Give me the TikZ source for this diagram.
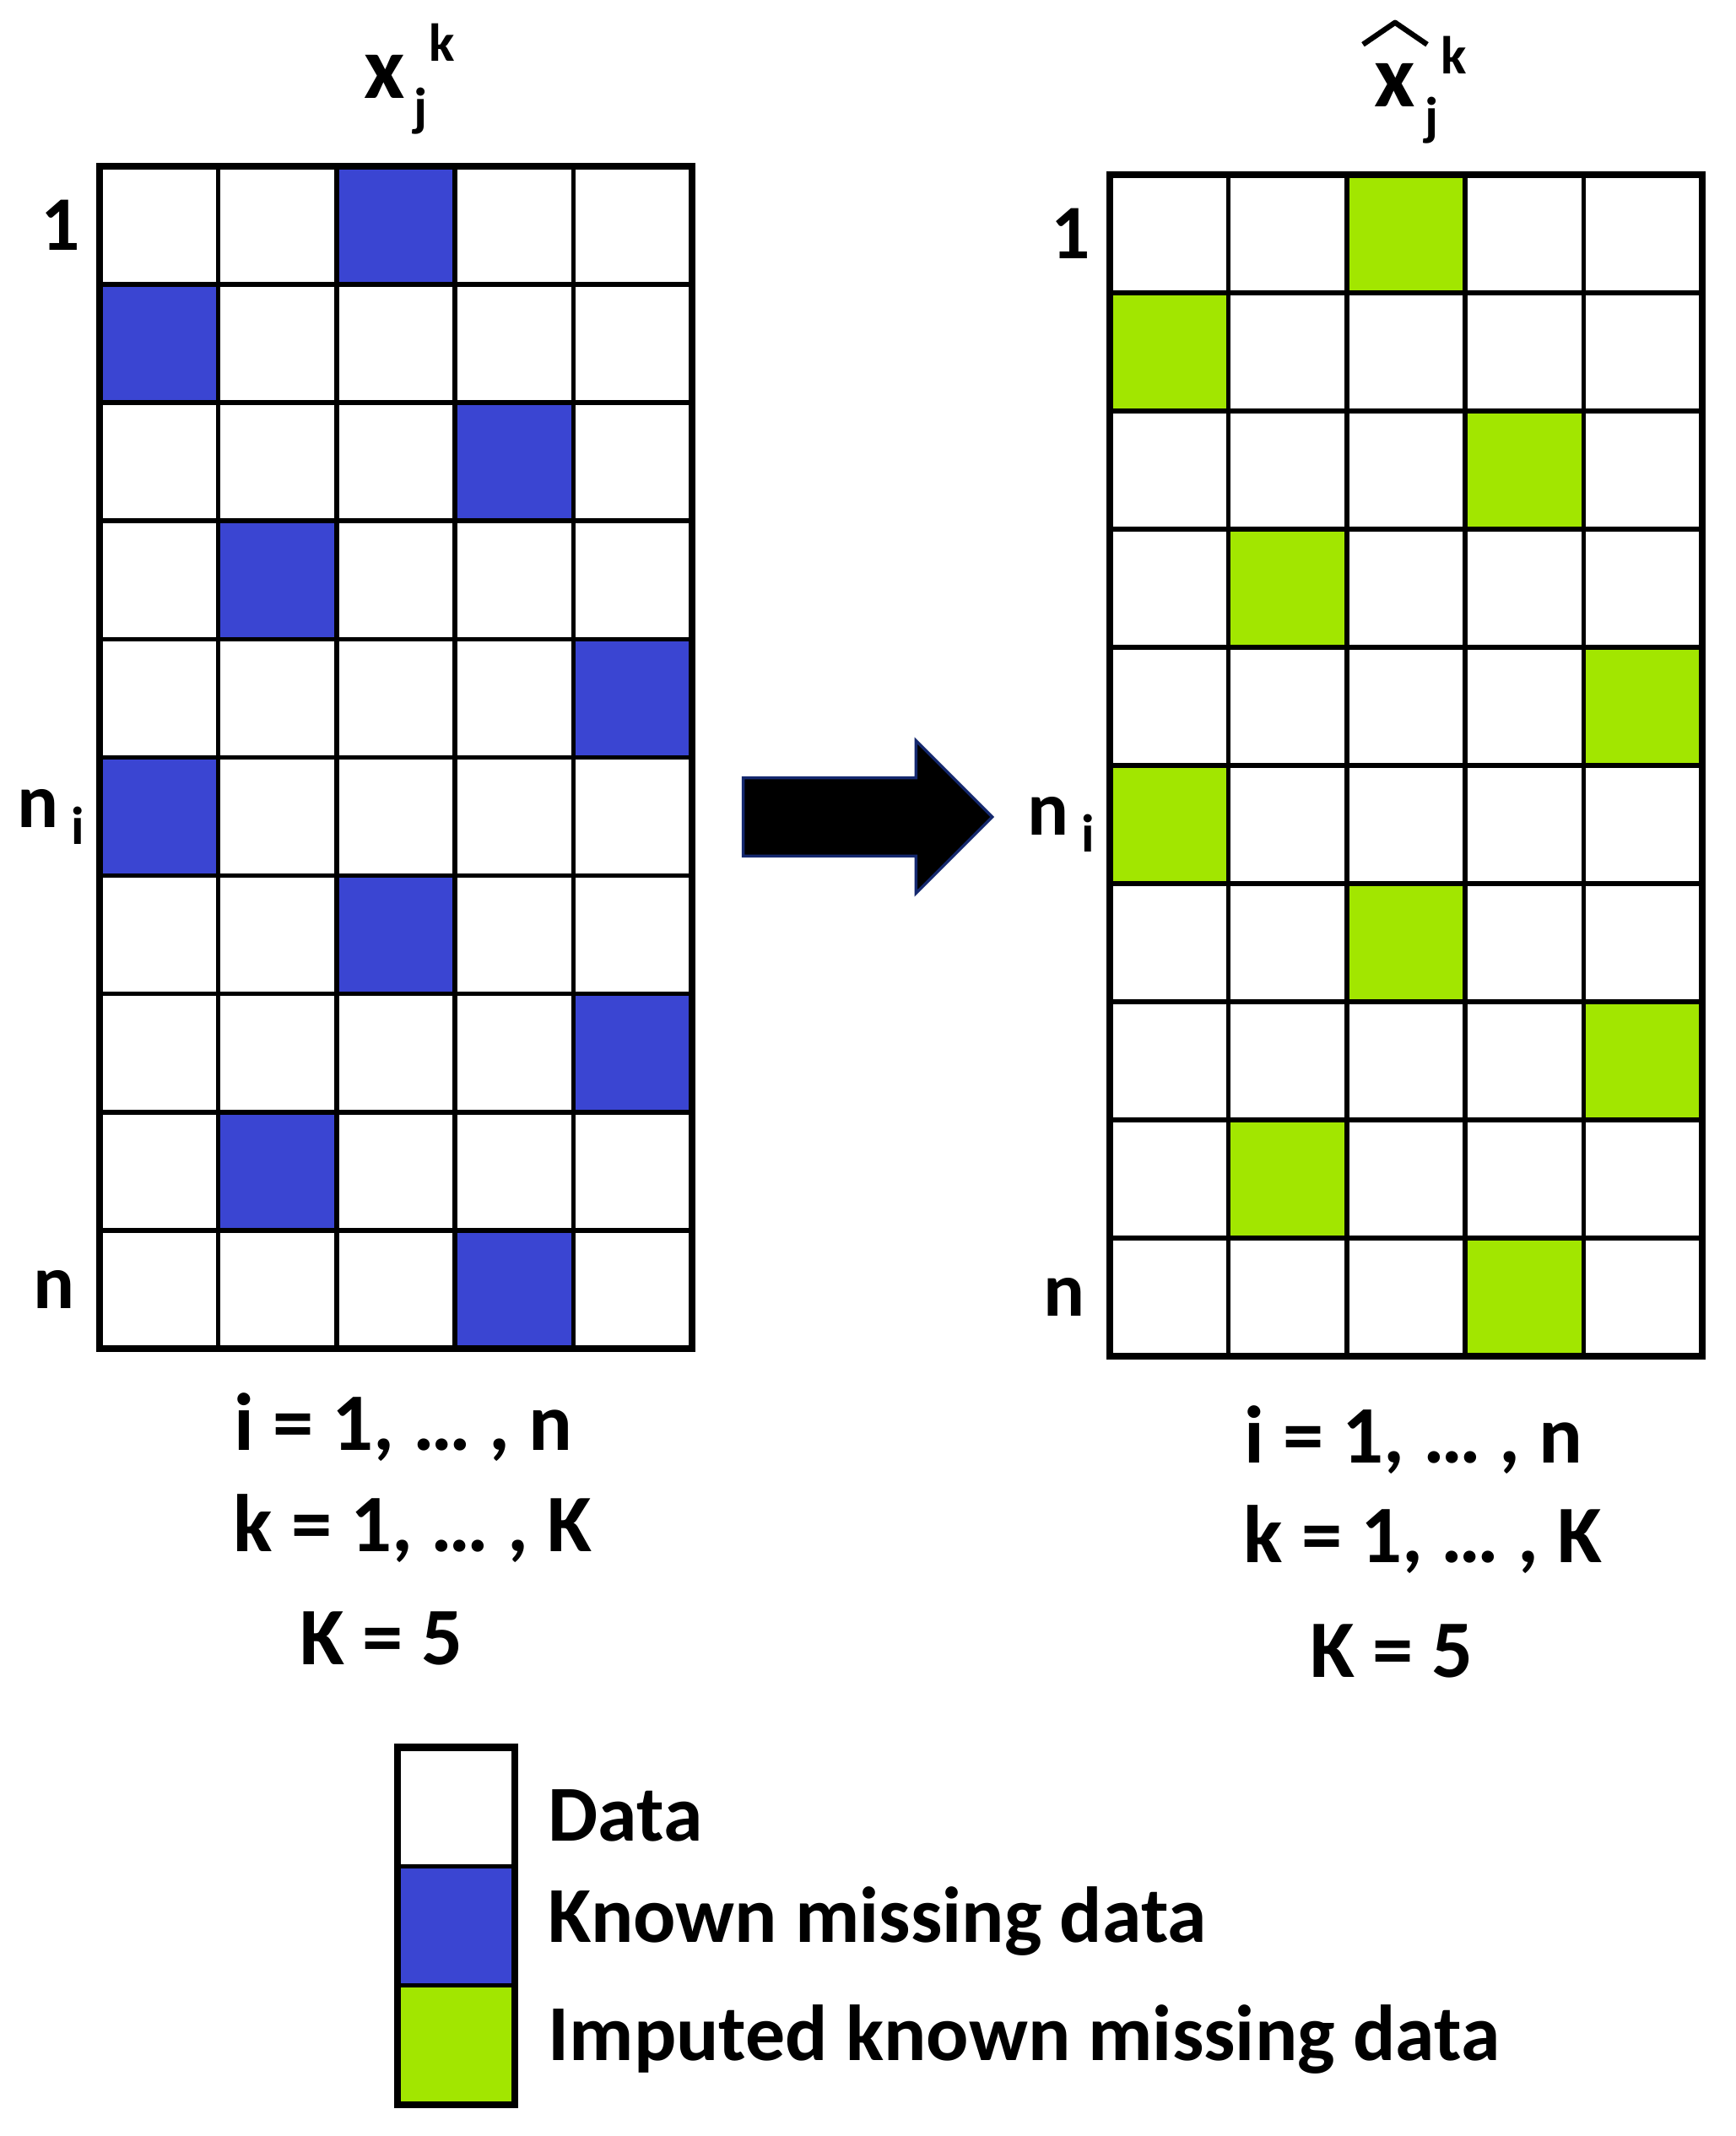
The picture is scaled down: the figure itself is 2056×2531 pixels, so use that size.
\documentclass[tikz,border=0pt]{standalone}
\usepackage{fontspec}
\setmainfont{Carlito}
\usepackage{tikz}
\usetikzlibrary{positioning,shapes.arrows}
\definecolor{knownblue}{RGB}{58,69,210}
\definecolor{imputegreen}{RGB}{162,230,0}
\definecolor{arrowedge}{RGB}{20,40,110}

\begin{document}
\begin{tikzpicture}[x=0.01cm,y=-0.01cm,
  cell/.style={draw,line width=1.6pt,fill=white,inner sep=0pt,outer sep=0pt,
    minimum width=1.404cm,minimum height=1.401cm},
  known/.style={cell,fill=knownblue},
  imputed/.style={cell,fill=imputegreen},
  big/.style={font=\bfseries\fontsize{26}{30}\selectfont,inner sep=0pt},
  index text/.style={big,font=\bfseries\fontsize{27.5}{32}\selectfont},
  legend text/.style={big,anchor=west,font=\bfseries\fontsize{26.7}{31}\selectfont},
  small/.style={font=\bfseries\fontsize{18}{20}\selectfont,inner sep=0pt},
  row label/.style={big,anchor=east}]
\useasboundingbox (0,0) rectangle (2056,2531);

\foreach \m [count=\r] in {3,1,4,2,5,1,3,5,2,4}
  \foreach \c in {1,...,5} {
    \ifnum\c=\m \def\kindL{known}\def\kindR{imputed}\else\def\kindL{cell}\def\kindR{cell}\fi
    \node[\kindL] (L-\r-\c) at ({118+140.4*(\c-0.5)},{197+140.1*(\r-0.5)}) {};
    \node[\kindR] (R-\r-\c) at ({1315+140.4*(\c-0.5)},{207+140*(\r-0.5)}) {};
  }
\draw[line width=2.4pt] (L-1-1.north west) rectangle (L-10-5.south east);
\draw[line width=2.4pt] (R-1-1.north west) rectangle (R-10-5.south east);

\node[row label,left=0.22cm of L-1-1] {1};
\node[row label,left=0.17cm of L-6-1] {n\,\raisebox{-0.45ex}{\fontsize{18}{20}\selectfont i}};
\node[row label,left=0.29cm of L-10-1] {n};
\node[row label,left=0.22cm of R-1-1] {1};
\node[row label,left=0.17cm of R-6-1] {n\,\raisebox{-0.45ex}{\fontsize{18}{20}\selectfont i}};
\node[row label,left=0.29cm of R-10-1] {n};

\node[big,font=\bfseries\fontsize{30}{34}\selectfont] (xL) at (456,91) {x};
\node[small] (kL) at (524,50) {k};
\node[small] (jL) at (499,132) {j};
\node[big,font=\bfseries\fontsize{30}{34}\selectfont] (xR) at (1653,101) {x};
\node[small] (kR) at (1723,65) {k};
\node[small] (jR) at (1697,143) {j};
\draw[line width=1.8pt,line join=round]
  ([shift={(-38,-22)}]xR.north) -- ([shift={(0,-48)}]xR.north) -- ([shift={(38,-22)}]xR.north);

\node[single arrow,fill=black,draw=arrowedge,line width=1pt,inner xsep=0pt,inner ysep=0.445cm,
  minimum height=2.95cm,single arrow head extend=0.44cm,single arrow tip angle=90] (arr) at (1005,968) {};

\node[index text] (iL) at (478,1691) {i = 1, … , n};
\node[index text] (kkL) at (489,1811) {k = 1, … , K};
\node[index text] (KL) at (452,1941) {K = 5};
\node[index text] (iR) at (1675,1706) {i = 1, … , n};
\node[index text] (kkR) at (1686,1824) {k = 1, … , K};
\node[index text] (KR) at (1649,1956) {K = 5};

\node[cell,minimum width=1.39cm,minimum height=1.41cm] (leg-d) at (540.5,2141) {};
\node[known,minimum width=1.39cm,minimum height=1.41cm,below=0pt of leg-d] (leg-k) {};
\node[imputed,minimum width=1.39cm,minimum height=1.41cm,below=0pt of leg-k] (leg-i) {};
\draw[line width=2.4pt] (leg-d.north west) rectangle (leg-i.south east);
\node[legend text] at (649,2151) {Data};
\node[legend text] at (649,2276) {Known missing data};
\node[legend text] at (649,2416) {Imputed known missing data};
\end{tikzpicture}
\end{document}
